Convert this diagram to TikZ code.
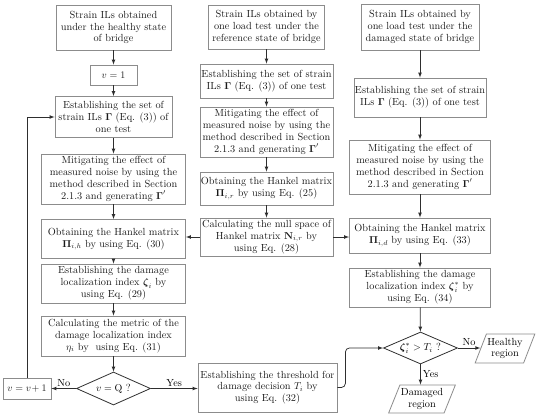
\documentclass[tikz,border=0pt]{standalone}
\usepackage{amssymb}
\usepackage{amsmath}
\usepackage{tikz}
\usetikzlibrary{shapes.geometric}
\definecolor{boxgray}{HTML}{8C8C8C}
\definecolor{linegray}{HTML}{2E2E2E}
\tikzstyle{stepbox}=[draw=boxgray, line width=0.8pt, align=center, inner sep=1pt, text=black!90, font=\fontsize{10.3}{11.8}\selectfont]
\tikzstyle{decision}=[diamond, draw=linegray, line width=0.8pt, aspect=2.3, inner sep=1pt, align=center, font=\fontsize{10.3}{11.8}\selectfont]
\tikzstyle{region}=[trapezium, trapezium left angle=64, trapezium right angle=116, trapezium stretches body=true, draw=boxgray, line width=0.8pt, align=center, inner sep=1pt, font=\fontsize{10.3}{11.8}\selectfont]
\tikzstyle{flow}=[->, >=latex, draw=linegray, line width=0.75pt]
\tikzstyle{branch}=[inner sep=2pt, font=\fontsize{10.3}{11.8}\selectfont]

\begin{document}
\begin{tikzpicture}[x=1pt, y=-1pt]
	\useasboundingbox (0, 0) rectangle (550, 416);
		   \begin{scope}
			   \node (L1) at (113.5, 27.5)[stepbox, minimum width=115pt, minimum height=45pt] {Strain ILs obtained\\under the healthy state\\of bridge};
			   \node (L2) at (113.5, 75)[stepbox, minimum width=47pt, minimum height=20pt] {$v = 1$};
			   \node (L3) at (113.5, 117)[stepbox, minimum width=117pt, minimum height=41pt] {Establishing the set of\\strain ILs $\boldsymbol{\Gamma}$ (Eq. (3)) of\\one test};
			   \node (L4) at (113.5, 179)[stepbox, minimum width=144pt, minimum height=50pt] {Mitigating the effect of\\measured noise by using the\\method described in Section\\2.1.3 and generating $\boldsymbol{\Gamma}'$};
			   \node (L5) at (113.5, 239)[stepbox, minimum width=144pt, minimum height=39pt] {Obtaining the Hankel matrix\\$\boldsymbol{\Pi}_{i,h}$ by using Eq. (30)};
			   \node (L6) at (113.5, 283.5)[stepbox, minimum width=144pt, minimum height=39pt] {Establishing the damage\\localization index $\boldsymbol{\zeta}_i$ by\\using Eq. (29)};
			   \node (L7) at (113.5, 336)[stepbox, minimum width=144pt, minimum height=40pt] {Calculating the metric of the\\damage localization index\\$\eta_i$ by\ \ using Eq. (31)};
			   \node (D1) at (113.5, 388.5)[decision, minimum width=74pt, minimum height=33pt] {$v = \mathrm{Q}$ ?};
			   \node (V1) at (27, 388.5)[stepbox, minimum width=48pt, minimum height=21pt] {$v = v\!+ 1$};
			   \node (M1) at (266.5, 27)[stepbox, minimum width=116pt, minimum height=44pt] {Strain ILs obtained by\\one load test under the\\reference state of bridge};
			   \node (M2) at (266.5, 81)[stepbox, minimum width=133pt, minimum height=34pt] {Establishing the set of strain\\ILs $\boldsymbol{\Gamma}$\ (Eq. (3)) of one test};
			   \node (M3) at (266.5, 132)[stepbox, minimum width=133pt, minimum height=50pt] {Mitigating the effect of\\measured noise by using the\\method described in Section\\2.1.3 and generating $\boldsymbol{\Gamma}'$};
			   \node (M4) at (266.5, 188.5)[stepbox, minimum width=133pt, minimum height=33pt] {Obtaining the Hankel matrix\\$\boldsymbol{\Pi}_{i,r}$ by using Eq. (25)};
			   \node (M5) at (266.5, 237)[stepbox, minimum width=133pt, minimum height=38pt] {Calculating the null space of\\Hankel matrix $\mathbf{N}_{i,r}$ by\\using Eq. (28)};
			   \node (M7) at (267.5, 387.5)[stepbox, minimum width=139pt, minimum height=49pt] {Establishing the threshold for\\damage decision $T_i$ by\\using Eq. (32)};
			   \node (R1) at (420, 27)[stepbox, minimum width=118pt, minimum height=46pt] {Strain ILs obtained by\\one load test under the\\damaged state of bridge};
			   \node (R2) at (420, 97.5)[stepbox, minimum width=132pt, minimum height=39pt] {Establishing the set of strain\\ILs $\boldsymbol{\Gamma}$\ (Eq. (3)) of one test};
			   \node (R3) at (420, 167)[stepbox, minimum width=141pt, minimum height=54pt] {Mitigating the effect of\\measured noise by using the\\method described in Section\\2.1.3 and generating $\boldsymbol{\Gamma}'$};
			   \node (R4) at (420, 235.5)[stepbox, minimum width=141pt, minimum height=35pt] {Obtaining the Hankel matrix\\$\boldsymbol{\Pi}_{i,d}$ by using Eq. (33)};
			   \node (R5) at (420, 287.5)[stepbox, minimum width=141pt, minimum height=39pt] {Establishing the damage\\localization index $\boldsymbol{\zeta}_i^{*}$ by\\using Eq. (34)};
			   \node (D2) at (420.5, 348)[decision, minimum width=74pt, minimum height=32pt] {$\boldsymbol{\zeta}_i^{*} > T_i$ ?};
			   \node (H) at (505, 348.5)[region, minimum width=46pt, minimum height=29pt] {Healthy\\region};
			   \node (DR) at (422, 399)[region, minimum width=64pt, minimum height=28pt] {Damaged\\region};
		   \end{scope}
		   \begin{scope}[flow]
			   \path [->] (L1) edge (L2);
			   \path [->] (L2) edge (L3);
			   \path [->] (L3) edge (L4);
			   \path [->] (L4) edge (L5);
			   \path [->] (L5) edge (L6);
			   \path [->] (L6) edge (L7);
			   \path [->] (L7) edge (D1);
			   \path [->] (D1.west) edge node[branch, above] (no1) {No} (D1.west -| V1.east);
			   \path [->] (D1.east) edge node[branch, above] (yes1) {Yes} (D1.east -| M7.west);
			   \draw [->] (V1.north) |- (L3.west);
			   \path [->] (M1) edge (M2);
			   \path [->] (M2) edge (M3);
			   \path [->] (M3) edge (M4);
			   \path [->] (M4) edge (M5);
			   \path [->] (M5.west) edge (M5.west -| L5.east);
			   \path [->] (M5.east) edge (M5.east -| R4.west);
			   \draw [->, rounded corners=4pt] (M7.east) -- ++(8, 0) |- (D2.west);
			   \path [->] (R1) edge (R2);
			   \path [->] (R2) edge (R3);
			   \path [->] (R3) edge (R4);
			   \path [->] (R4) edge (R5);
			   \path [->] (R5) edge (D2);
			   \path [->] (D2.east) edge node[branch, above] (no2) {No} (D2.east -| H.west);
			   \path [->] (D2.south) edge node[branch, right] (yes2) {Yes} (D2.south |- DR.north);
		   \end{scope}
	   \end{tikzpicture}
\end{document}
